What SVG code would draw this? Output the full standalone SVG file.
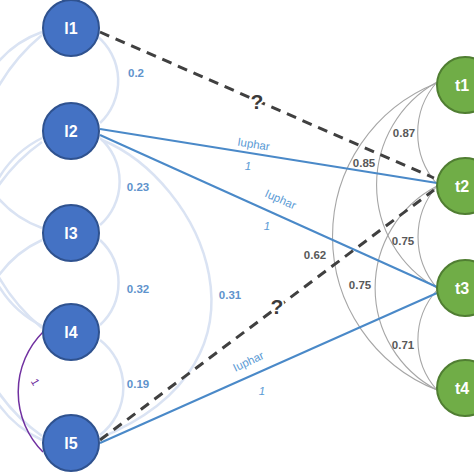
<svg xmlns="http://www.w3.org/2000/svg" width="474" height="474" viewBox="0 0 474 474">
<style>
.lb{fill:none;stroke:#dae3f3;stroke-width:2.5}
.ga{fill:none;stroke:#a6a6a6;stroke-width:1.1}
.bl{stroke:#4a89c8;stroke-width:2;fill:none}
.ds{stroke:#404040;stroke-width:3;stroke-dasharray:10 7;fill:none}
.ln{fill:#4472c4;stroke:#2f528f;stroke-width:2}
.tn{fill:#70ad47;stroke:#507e32;stroke-width:2}
.nt{font-family:"Liberation Sans",Arial,sans-serif;font-size:16px;font-weight:bold;fill:#fff;text-anchor:middle}
.wb{font-family:"Liberation Sans",Arial,sans-serif;font-size:11.5px;font-weight:bold;fill:#5f93cc;text-anchor:middle}
.wg{font-family:"Liberation Sans",Arial,sans-serif;font-size:11.5px;font-weight:bold;fill:#595959;text-anchor:middle}
.iu{font-family:"Liberation Sans",Arial,sans-serif;font-size:11.5px;fill:#5b9bd5;text-anchor:middle}
.on{font-family:"Liberation Sans",Arial,sans-serif;font-size:11.5px;font-style:italic;fill:#5b9bd5;text-anchor:middle}
.q{font-family:"Liberation Sans",Arial,sans-serif;font-size:21px;font-weight:bold;fill:#3a3a3a;text-anchor:middle;stroke:#fff;stroke-width:4;paint-order:stroke}
</style>
<g id="connectors">
  <path class="lb" d="M42,32 A 104 104 0 0 0 42,228"/>
  <path class="lb" d="M42,35 A 190 190 0 0 0 42,328"/>
  <path class="lb" d="M42,138 A 105 105 0 0 0 42,326"/>
  <path class="lb" d="M42,142 A 180 180 0 0 0 42,436"/>
  <path class="lb" d="M42,240 A 110 110 0 0 0 42,440"/>
  <path class="lb" d="M97,36 A 58 58 0 0 1 100,123"/>
  <path class="lb" d="M100,138 A 58 58 0 0 1 100,225"/>
  <path class="lb" d="M100,240 A 58 58 0 0 1 100,325"/>
  <path class="lb" d="M100,340 A 60 60 0 0 1 100,435"/>
  <path class="lb" d="M102,140 C 200,180 290,360 100,438"/>
  <path d="M43,332 A 85 85 0 0 0 43,452" fill="none" stroke="#7030a0" stroke-width="1.5"/>
  <path class="ga" d="M437,82 A 77 77 0 0 0 437,184"/>
  <path class="ga" d="M437,82 A 118 118 0 0 0 437,288"/>
  <path class="ga" d="M437,83 A 165 165 0 0 0 437,390"/>
  <path class="ga" d="M437,186 A 78 78 0 0 0 437,288"/>
  <path class="ga" d="M437,186 A 115 115 0 0 0 437,390"/>
  <path class="ga" d="M437,290 A 75 75 0 0 0 437,390"/>
  <line class="bl" x1="100" y1="129" x2="437" y2="183"/>
  <line class="bl" x1="100" y1="135" x2="437" y2="287"/>
  <line class="bl" x1="100" y1="443" x2="437" y2="293"/>
  <line class="ds" x1="100" y1="32" x2="434" y2="178"/>
  <line class="ds" x1="100" y1="440" x2="434" y2="190"/>
  <text class="wb" x="136" y="77">0.2</text>
  <text class="wb" x="138" y="191">0.23</text>
  <text class="wb" x="138" y="293">0.32</text>
  <text class="wb" x="138" y="388">0.19</text>
  <text class="wb" x="230" y="299">0.31</text>
  <text class="wg" x="404" y="137">0.87</text>
  <text class="wg" x="364" y="167">0.85</text>
  <text class="wg" x="403" y="245">0.75</text>
  <text class="wg" x="360" y="289">0.75</text>
  <text class="wg" x="403" y="349">0.71</text>
  <text class="wg" x="315" y="259">0.62</text>
  <text class="iu" transform="translate(253,148) rotate(9)">Iuphar</text>
  <text class="on" x="248" y="170">1</text>
  <text class="iu" transform="translate(279,203) rotate(24)">Iuphar</text>
  <text class="on" x="267" y="230">1</text>
  <text class="iu" transform="translate(250,365) rotate(-25)">Iuphar</text>
  <text class="on" x="262" y="395">1</text>
  <text x="0" y="0" transform="translate(32,384) rotate(60)" font-family="Liberation Sans,Arial,sans-serif" font-size="11" fill="#7030a0" text-anchor="middle">1</text>
  <text class="q" x="257" y="109">?</text>
  <text class="q" x="277" y="314">?</text>
</g>
<path d="M62,0 Q63,4 71,4 Q79,4 80,0 Z" fill="#2f528f"/>
<g id="l1"><circle class="ln" cx="71" cy="28" r="28"/><text class="nt" x="71" y="34">l1</text></g>
<g id="l2"><circle class="ln" cx="71" cy="131" r="28"/><text class="nt" x="71" y="137">l2</text></g>
<g id="l3"><circle class="ln" cx="71" cy="233" r="28"/><text class="nt" x="71" y="239">l3</text></g>
<g id="l4"><circle class="ln" cx="71" cy="332" r="28"/><text class="nt" x="71" y="338">l4</text></g>
<g id="l5"><circle class="ln" cx="71" cy="443" r="28"/><text class="nt" x="71" y="449">l5</text></g>
<g id="t1"><circle class="tn" cx="465" cy="85" r="28"/><text class="nt" x="462" y="91">t1</text></g>
<g id="t2"><circle class="tn" cx="465" cy="186" r="28"/><text class="nt" x="462" y="192">t2</text></g>
<g id="t3"><circle class="tn" cx="465" cy="288" r="28"/><text class="nt" x="462" y="294">t3</text></g>
<g id="t4"><circle class="tn" cx="465" cy="388" r="28"/><text class="nt" x="462" y="394">t4</text></g>
</svg>
